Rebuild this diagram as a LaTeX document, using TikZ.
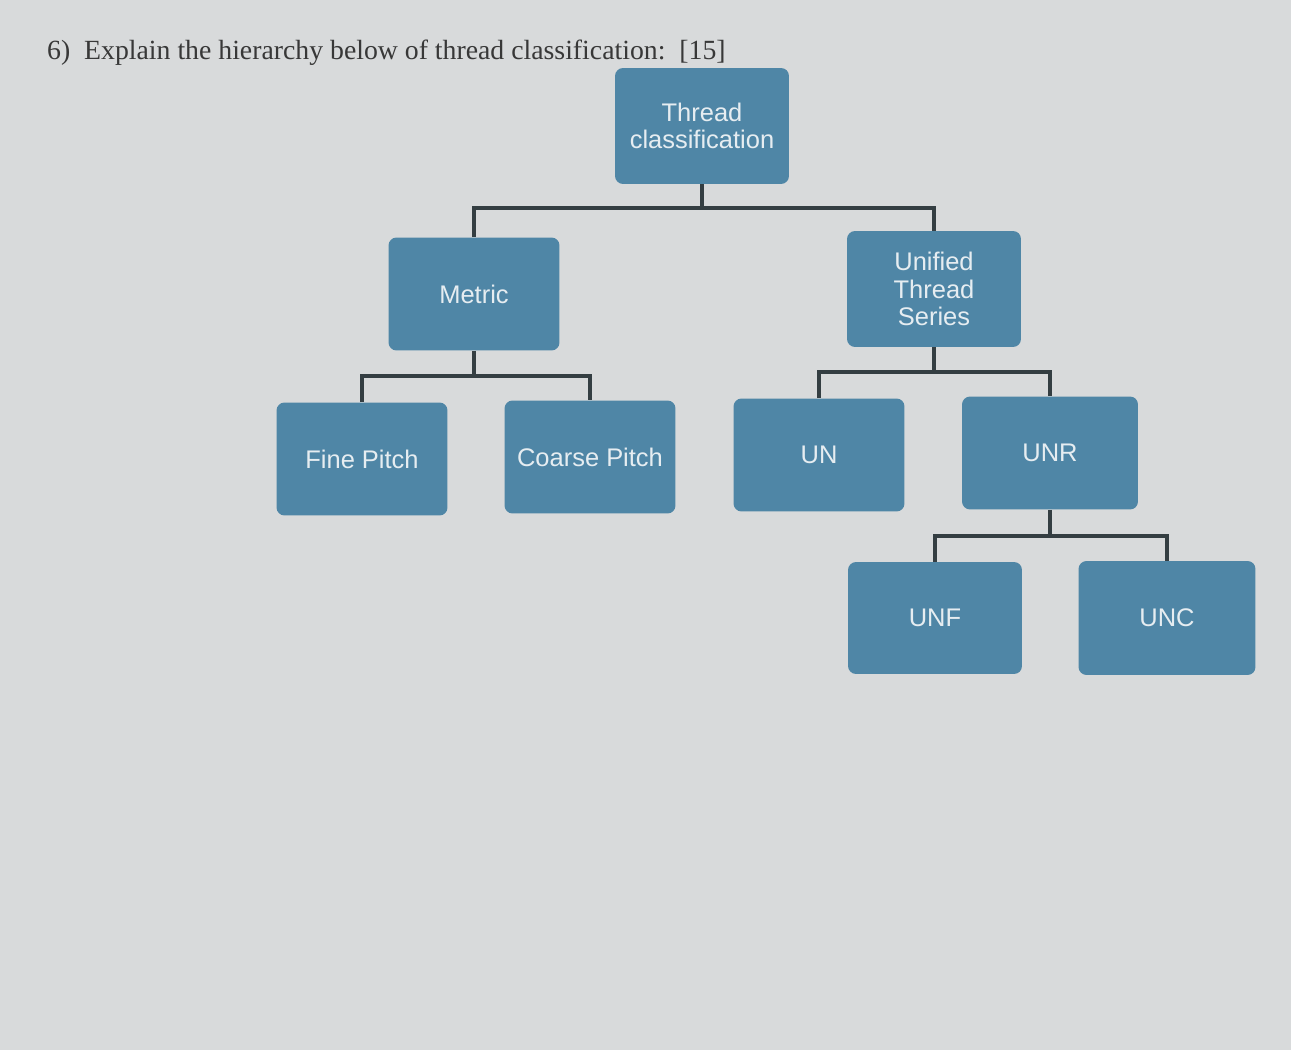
\documentclass[tikz,border=0pt]{standalone}
\usepackage{fontspec}
\setmainfont{Liberation Serif}
\newfontfamily\boxfont{Liberation Sans}
\usepackage{xcolor}
\usepackage{tikz}

\definecolor{paper}{HTML}{D8DADB}
\definecolor{boxblue}{HTML}{4F86A6}
\definecolor{boxtext}{HTML}{E6EDF1}
\definecolor{wire}{HTML}{343E42}

\tikzset{
  klasse/.style={fill=boxblue, rounded corners=0.16cm, minimum width=3.42cm,
    minimum height=2.26cm, align=center, text=boxtext,
    font=\boxfont\fontsize{14.5}{15.5}\selectfont, inner sep=2pt},
  stamm/.style={draw=wire, line width=2pt}
}

\begin{document}
\begin{tikzpicture}[x=0.02cm,y=-0.02cm]
                    \fill[paper] (0,0) rectangle (1291,1050);
                    \useasboundingbox (0,0) rectangle (1291,1050);

                    \node[anchor=west, text=black!78, font=\fontsize{15.8}{18}\selectfont] (titel) at (41,53) {6)\ \ Explain the hierarchy below of thread classification:\ \ [15]};

                    \node[klasse, minimum width=3.48cm, minimum height=2.32cm] (thread) at (702,126) {Thread\\classification};
                    \node[klasse] (metric) at (474,294) {Metric};
                    \node[klasse, minimum width=3.48cm, minimum height=2.32cm] (uts) at (934,289) {Unified\\Thread\\Series};

                    \node[klasse] (fine) at (362,459) {Fine Pitch};
                    \node[klasse] (coarse) at (590,457) {Coarse Pitch};
                    \node[klasse] (un) at (819,455) {UN};
                    \node[klasse, minimum width=3.52cm] (unr) at (1050,453) {UNR};
                    \node[klasse, minimum width=3.48cm, minimum height=2.24cm] (unf) at (935,618) {UNF};
                    \node[klasse, minimum width=3.54cm, minimum height=2.28cm] (unc) at (1167,618) {UNC};

                    \coordinate (k1) at (702,208);
                    \coordinate (k2) at (474,376);
                    \coordinate (k3) at (934,372);
                    \coordinate (k4) at (1050,536);

                    \draw[stamm] (thread.south) -- (k1);
                    \draw[stamm] (metric.north) |- (k1) -| (uts.north);
                    \draw[stamm] (metric.south) -- (k2);
                    \draw[stamm] (fine.north) |- (k2) -| (coarse.north);
                    \draw[stamm] (uts.south) -- (k3);
                    \draw[stamm] (un.north) |- (k3) -| (unr.north);
                    \draw[stamm] (unr.south) -- (k4);
                    \draw[stamm] (unf.north) |- (k4) -| (unc.north);
\end{tikzpicture}
\end{document}
